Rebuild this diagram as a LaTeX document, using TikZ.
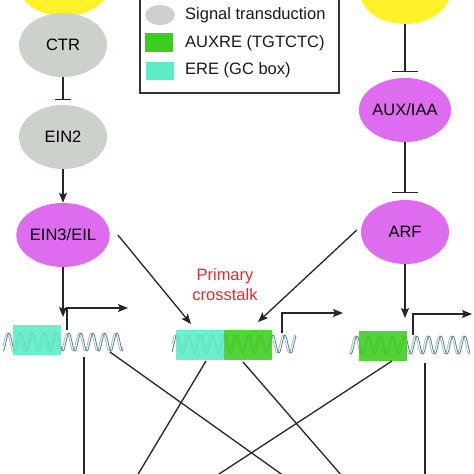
\documentclass[tikz,border=0pt]{standalone}
\usepackage{fontspec}
\setmainfont{Liberation Sans}
\usetikzlibrary{shapes.geometric,arrows.meta,calc}
\definecolor{ylw}{RGB}{255,242,40}
\definecolor{gry}{RGB}{204,209,204}
\definecolor{mag}{RGB}{221,108,238}
\definecolor{grn}{RGB}{62,204,30}
\definecolor{cyn}{RGB}{92,236,196}
\definecolor{redt}{RGB}{222,45,50}
\definecolor{strA}{RGB}{95,120,130}
\definecolor{strB}{RGB}{170,198,204}
\newcommand\mydna[3]{%
  \draw[strB,line width=1pt,domain=#1:#2,samples=160,variable=\t] plot (\t,{#3+9*sin(30*\t+60)});
  \draw[strA,line width=0.8pt,domain=#1:#2,samples=160,variable=\t] plot (\t,{#3+9*sin(30*\t)});
}
\begin{document}
\begin{tikzpicture}[x=1pt,y=-1pt,
  font=\fontsize{16.5}{19.5}\selectfont,
  prot/.style={ellipse,minimum width=88pt,minimum height=64pt,inner sep=0pt},
  sig/.style={prot,fill=gry},
  tf/.style={prot,fill=mag},
  hormone/.style={ellipse,fill=ylw,inner sep=0pt},
  conn/.style={line width=1.3pt,draw=black!85},
  act/.style={conn,-{Stealth[length=10pt,width=8pt,inset=2pt]}},
  inhS/.style={conn,-{Bar[width=16pt,line width=1.3pt]}},
  inhW/.style={conn,-{Bar[width=26pt,line width=1.3pt]}},
  erebox/.style={rectangle,fill=cyn,fill opacity=0.88,inner sep=0pt,minimum height=30pt,minimum width=48pt},
  auxbox/.style={rectangle,fill=grn,fill opacity=0.88,inner sep=0pt,minimum height=30pt,minimum width=48pt},
  lbl/.style={anchor=west,inner sep=0pt,text=black!90},
  line/.style={line width=1.3pt,draw=black!85}
]
\useasboundingbox (0,0) rectangle (474,474);
\clip (0,0) rectangle (474,474);
\fill[white] (0,0) rectangle (474,474);

% hormones (cut off at top)
\node[hormone,minimum width=88pt,minimum height=56pt] (ylL) at (64,-12) {};
\node[hormone,minimum width=90pt,minimum height=64pt] (ylR) at (405,-8) {};

% legend
\draw[line width=1.3pt,draw=black!80] (140,-10) rectangle (339,93);
\node[ellipse,fill=gry,minimum width=30pt,minimum height=20pt,inner sep=0pt] (lg1) at (160,15) {};
\node[rectangle,fill=grn,minimum width=28pt,minimum height=19pt,inner sep=0pt] (lg2) at (159,42) {};
\node[rectangle,fill=cyn,minimum width=28pt,minimum height=18pt,inner sep=0pt] (lg3) at (160,71) {};
\node[lbl] (lt1) at (185,15) {Signal transduction};
\node[lbl] (lt2) at (185,43) {AUXRE (TGTCTC)};
\node[lbl] (lt3) at (185,70) {ERE (GC box)};

% ethylene pathway
\node[sig] (ctr) at (63,45) {CTR};
\node[sig] (ein2) at (63,137) {EIN2};
\node[tf] (ein3) at (63,235) {EIN3/EIL};

% auxin pathway
\node[tf] (auxiaa) at (405,110) {AUX/IAA};
\node[tf] (arf) at (405,232) {ARF};

\draw[inhS,shorten >=5pt] (ctr) -- (ein2);
\draw[act] (ein2) -- (ein3);
\draw[inhW,shorten >=6pt] (ylR.south) -- (auxiaa);
\draw[inhW,shorten >=7pt] (auxiaa) -- (arf);

% DNA helices
\mydna{3}{123}{342}
\mydna{172}{296}{344}
\mydna{350}{470}{345}

% promoter boxes
\node[erebox] (ereL) at (37,340) {};
\node[erebox] (ereM) at (200,344.5) {};
\node[auxbox] (auxM) at (248,344.5) {};
\node[auxbox] (auxR) at (382.5,346) {};

% transcription start arrows
\coordinate (pL) at (67,330);
\coordinate (pLe) at (128,308);
\coordinate (pM) at (282,333);
\coordinate (pMe) at (343,313);
\coordinate (pR) at (413,335);
\coordinate (pRe) at (472,314);
\draw[act] (pL) |- (pLe);
\draw[act] (pM) |- (pMe);
\draw[act] (pR) |- (pRe);

% activation arrows onto promoters
\coordinate (tL) at (63,317);
\coordinate (tM1) at (191,324);
\coordinate (tM2) at (258,322);
\coordinate (tR) at (405,318);
\draw[act] (ein3) -- (tL);
\draw[act] ($(ein3.east)+(8,0)$) -- (tM1);
\draw[act] ($(arf.west)+(-4,-2)$) -- (tM2);
\draw[act] (arf) -- (tR);

\node[text=redt,align=center,font=\fontsize{16.5}{20}\selectfont] (pc) at (225,285) {Primary\\crosstalk};

% downstream connectors
\coordinate (dL1) at (84,357);
\coordinate (dL2) at (110,352);
\coordinate (dM1) at (206,361);
\coordinate (dM2) at (243,362);
\coordinate (dR1) at (392,361);
\coordinate (dR2) at (425,363);
\coordinate (bL1) at (84,476);
\coordinate (bL2) at (284,476);
\coordinate (bM1) at (137,476);
\coordinate (bM2) at (342,476);
\coordinate (bR1) at (216,476);
\coordinate (bR2) at (425,476);
\draw[line] (dL1) -- (bL1);
\draw[line] (dL2) -- (bL2);
\draw[line] (dM1) -- (bM1);
\draw[line] (dM2) -- (bM2);
\draw[line] (dR1) -- (bR1);
\draw[line] (dR2) -- (bR2);
\end{tikzpicture}
\end{document}
